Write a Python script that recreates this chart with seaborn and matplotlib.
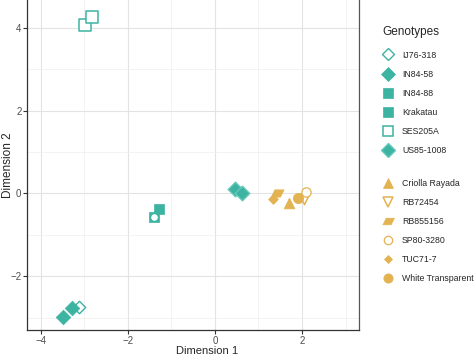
import numpy as np
import pandas as pd
import seaborn as sns
import matplotlib.pyplot as plt
from matplotlib.lines import Line2D

# MDS coordinates (one row per sample)
genotype = ["SES205A", "SES205A", "IN84-88", "Krakatau", "US85-1008", "US85-1008",
            "IN84-58", "IN84-58", "IJ76-318",
            "Criolla Rayada", "RB72454", "RB855156", "SP80-3280", "TUC71-7", "White Transparent"]
dim1 = [-2.99, -2.83, -1.41, -1.29, 0.47, 0.62,
        -3.49, -3.29, -3.12,
        1.69, 2.04, 1.43, 2.10, 1.33, 1.90]
dim2 = [4.06, 4.25, -0.58, -0.37, 0.11, 0.02,
        -2.98, -2.78, -2.74,
        -0.24, -0.13, 0.01, 0.03, -0.14, -0.10]

teal_names = ["IJ76-318", "IN84-58", "IN84-88", "Krakatau", "SES205A", "US85-1008"]
gold_names = ["Criolla Rayada", "RB72454", "RB855156", "SP80-3280", "TUC71-7", "White Transparent"]

df = pd.DataFrame({"Genotype": genotype, "Dimension 1": dim1, "Dimension 2": dim2})

TEAL = "#3DB3A2"
GOLD = "#E2B350"
para = [(-1.0, -0.55), (0.45, -0.55), (1.0, 0.55), (-0.45, 0.55)]

# marker, size, face, edge, linewidth
style = {
    "IJ76-318": ("D", 40, "white", TEAL, 1.0),
    "IN84-58": ("D", 55, TEAL, TEAL, 0.5),
    "IN84-88": ("s", 60, TEAL, TEAL, 0.5),
    "Krakatau": ("s", 60, TEAL, TEAL, 0.5),
    "SES205A": ("s", 70, "white", TEAL, 1.1),
    "US85-1008": ("D", 55, TEAL, "#66C9BA", 1.0),
    "Criolla Rayada": ("^", 60, GOLD, GOLD, 0.5),
    "RB72454": ("v", 55, "white", GOLD, 1.1),
    "RB855156": (para, 90, GOLD, GOLD, 0.5),
    "SP80-3280": ("o", 45, "white", GOLD, 0.9),
    "TUC71-7": ("D", 25, GOLD, GOLD, 0.5),
    "White Transparent": ("o", 55, GOLD, GOLD, 0.5),
}

sns.set_style("white")
plt.rcParams["font.family"] = ["Liberation Sans", "DejaVu Sans"]

fig = plt.figure(figsize=(4.74, 3.54), dpi=100)
ax = fig.add_axes([27 / 474, 24 / 354, 332 / 474, 330 / 354])

for name in teal_names + gold_names:
    m, s, fc, ec, lw = style[name]
    sub = df[df["Genotype"] == name]
    sns.scatterplot(data=sub, x="Dimension 1", y="Dimension 2", marker=m, s=s,
                    color=ec, facecolor=fc, edgecolor=ec, linewidth=lw,
                    ax=ax, legend=False, zorder=3)
    if name == "IN84-88":
        ax.scatter(sub["Dimension 1"], sub["Dimension 2"], marker="o", s=14,
                   color="white", zorder=4)

ax.set_xlim(-4.32, 3.31)
ax.set_ylim(-3.3, 4.67)
ax.set_xticks([-4, -2, 0, 2])
ax.set_yticks([-2, 0, 2, 4])
ax.set_xticks([-3, -1, 1, 3], minor=True)
ax.set_yticks([-3, -1, 1, 3], minor=True)
ax.grid(which="major", color="#E3E3E3", linewidth=0.8)
ax.grid(which="minor", color="#EFEFEF", linewidth=0.5)
ax.set_axisbelow(True)
for sp in ["left", "bottom"]:
    ax.spines[sp].set_color("#333333")
    ax.spines[sp].set_linewidth(0.9)
ax.spines["right"].set_color("#555555")
ax.spines["right"].set_linewidth(0.9)
ax.spines["top"].set_visible(False)
ax.tick_params(axis="both", which="major", length=3, width=0.8, color="#333333",
               labelsize=7, labelcolor="#4D4D4D", pad=1, bottom=True, left=True)
ax.set_xlabel("Dimension 1", fontsize=8)
ax.set_ylabel("Dimension 2", fontsize=8.5)
ax.xaxis.set_label_coords((207 - 27) / 332, -20.5 / 330)
ax.yaxis.set_label_coords(-19 / 332, 0.5)
ax.xaxis.label.set_va("center")
ax.yaxis.label.set_va("center")

# legend, two groups like the original
def handle(name):
    m, s, fc, ec, lw = style[name]
    return Line2D([], [], linestyle="none", marker=m, markersize=np.sqrt(s) * 0.9,
                  markerfacecolor=fc, markeredgecolor=ec, markeredgewidth=lw)

kw = dict(loc="upper left", frameon=False, fontsize=6.3, labelspacing=1.15,
          handletextpad=0.9, handlelength=1.4, borderaxespad=0, borderpad=0)
leg1 = fig.legend([handle(n) for n in teal_names], teal_names, title="Genotypes",
                  title_fontsize=8.5, bbox_to_anchor=(382 / 474, 1 - 26 / 354), **kw)
leg1._legend_box.align = "left"
leg1._legend_box.sep = 9
leg2 = fig.legend([handle(n) for n in gold_names], gold_names,
                  bbox_to_anchor=(382 / 474, 1 - 179 / 354), **kw)

fig.savefig("out.png", dpi=100)
